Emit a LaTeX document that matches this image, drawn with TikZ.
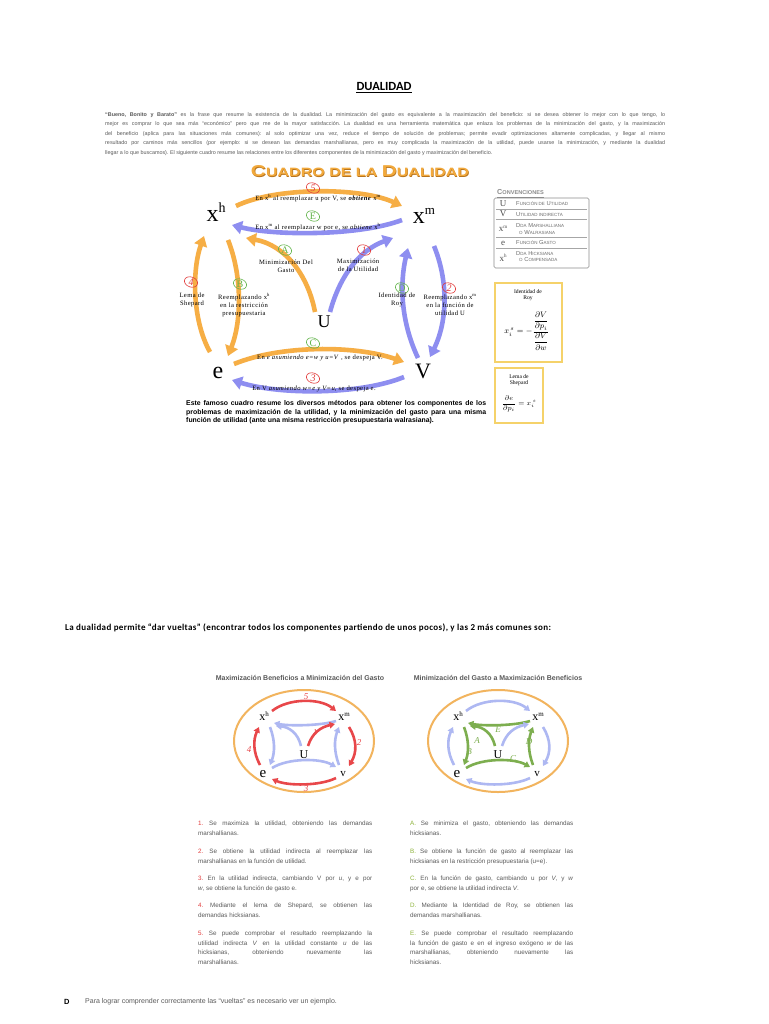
\documentclass[tikz,border=0pt]{standalone}
\usepackage{fontspec}
\usepackage{amsmath}
\usepackage{graphicx}
\setmainfont{Liberation Sans}
\newfontfamily\calib{Carlito}
\newfontfamily\calibw{Carlito}[LetterSpace=4]
\newfontfamily\tnr{Liberation Serif}
\newfontfamily\tnrw{Liberation Serif}[LetterSpace=6]
\usetikzlibrary{arrows.meta,shapes.geometric}
\definecolor{ptext}{HTML}{5A5A5A}
\definecolor{borange}{HTML}{F6AE45}
\definecolor{bblue}{HTML}{8E8EF0}
\definecolor{lred}{HTML}{E23B3B}
\definecolor{lgreen}{HTML}{62B44A}
\definecolor{sred}{HTML}{E8474A}
\definecolor{sblue}{HTML}{AEB8F2}
\definecolor{sgreen}{HTML}{7DAE4F}
\definecolor{sorange}{HTML}{F2B45E}
\definecolor{convgrey}{HTML}{6E6E6E}
\definecolor{roybox}{HTML}{F5D26A}
\definecolor{listgreen}{HTML}{8DB33A}
\definecolor{ttlorange}{HTML}{F2A93B}
\definecolor{ttlshadow}{HTML}{B8741E}
\newcommand\smc[1]{{\fontsize{4.5}{4.6}\selectfont\MakeUppercase{#1}}}
\newcommand\smcb[1]{{\fontsize{5.6}{5.8}\selectfont\MakeUppercase{#1}}}
\newcommand\jl[2]{\makebox[#1][s]{#2}}
\frenchspacing
\begin{document}
\begin{tikzpicture}[x=1pt,y=-1pt,
  oarr/.style={draw=borange, line width=4.6pt, -{Triangle[length=10pt,width=13pt]}},
  barr/.style={draw=bblue, line width=4.6pt, -{Triangle[length=10pt,width=13pt]}},
  rlbl/.style={text=lred, inner sep=0pt, font=\tnr\itshape\fontsize{10}{10}\selectfont},
  glbl/.style={text=lgreen, inner sep=0pt, font=\tnr\fontsize{10}{10}\selectfont},
  slbl/.style={inner sep=0pt, font=\tnr\itshape\fontsize{9}{9}\selectfont},
  dtxt/.style={font=\tnrw\fontsize{6.6}{7.8}\selectfont, inner sep=0pt, align=center},
  ptx/.style={font=\fontsize{5.4}{6}\selectfont, text=ptext, inner sep=0pt, anchor=base west},
  ltx/.style={font=\fontsize{6.3}{6.5}\selectfont, text=ptext, inner sep=0pt, anchor=base west},
  captx/.style={font=\bfseries\fontsize{6.9}{7}\selectfont, inner sep=0pt, anchor=base west},
  sarr/.style={line width=2.6pt, -{Triangle[length=5.5pt,width=6.5pt]}},
  snode/.style={font=\tnr\fontsize{12}{12}\selectfont, inner sep=0pt, anchor=base},
  conv/.style={font=\fontsize{5.8}{6}\selectfont, text=convgrey, inner sep=0pt, anchor=base west},
  convs/.style={font=\tnr\fontsize{9}{9}\selectfont, text=black!70, inner sep=0pt, anchor=base}
]
\fill[white] (0,0) rectangle (768,1024);
\useasboundingbox (0,0) rectangle (768,1024);

% ---------- Title ----------
\node[font=\calib\bfseries\fontsize{12.5}{12.5}\selectfont, inner sep=0pt, anchor=base] (title) at (384,91) {DUALIDAD};
\draw[line width=0.7pt] ([yshift=-1.6pt]title.base west) -- ([yshift=-1.6pt]title.base east);

% ---------- Paragraph ----------
\node[ptx] (p1) at (105,116.5) {\jl{560pt}{\textbf{“Bueno, Bonito y Barato”} es la frase que resume la existencia de la dualidad. La minimización del gasto es equivalente a la maximización del beneficio: si se desea obtener lo mejor con lo que tengo, lo}};
\node[ptx] (p2) at (105,126) {\jl{560pt}{mejor es comprar lo que sea más “económico” pero que me de la mayor satisfacción. La dualidad es una herramienta matemática que enlaza los problemas de la minimización del gasto, y la maximización}};
\node[ptx] (p3) at (105,135.5) {\jl{560pt}{del beneficio (aplica para las situaciones más comunes): al solo optimizar una vez, reduce el tiempo de solución de problemas; permite evadir optimizaciones altamente complicadas, y llegar al mismo}};
\node[ptx] (p4) at (105,145) {\jl{560pt}{resultado por caminos más sencillos (por ejemplo: si se desean las demandas marshallianas, pero es muy complicada la maximización de la utilidad, puede usarse la minimización, y mediante la dualidad}};
\node[ptx] (p5) at (105,154.5) {llegar a lo que buscamos). El siguiente cuadro resume las relaciones entre los diferentes componentes de la minimización del gasto y maximización del beneficio.};

% ---------- Cuadro de la dualidad title ----------
\node[text=ttlshadow, inner sep=0pt] (cuadros) at (360.6,171.6) {\resizebox{218pt}{11pt}{\bfseries\fontsize{13}{13}\selectfont C{\fontsize{10}{10}\selectfont UADRO DE LA }D{\fontsize{10}{10}\selectfont UALIDAD}}};
\node[text=ttlorange, inner sep=0pt] (cuadro) at (360,171) {\resizebox{218pt}{11pt}{\bfseries\fontsize{13}{13}\selectfont C{\fontsize{10}{10}\selectfont UADRO DE LA }D{\fontsize{10}{10}\selectfont UALIDAD}}};

% ---------- Big arrows ----------
\draw[oarr] (236,206) .. controls (275,187) and (360,187) .. (402,206);
\draw[barr] (402,220) .. controls (360,236) and (275,236) .. (232,225);
\draw[oarr] (315,312) .. controls (308,275) and (285,245) .. (246,238);
\draw[barr] (330,312) .. controls (340,275) and (360,250) .. (393,238);
\draw[oarr] (210,352) .. controls (192,320) and (192,270) .. (204,236);
\draw[oarr] (228,240) .. controls (242,275) and (242,320) .. (228,356);
\draw[barr] (418,358) .. controls (400,320) and (400,282) .. (408,248);
\draw[barr] (434,246) .. controls (448,280) and (448,320) .. (430,357);
\draw[oarr] (234,364) .. controls (280,345) and (355,345) .. (404,362);
\draw[barr] (404,377) .. controls (360,395) and (280,395) .. (232,380);

% ---------- Big nodes ----------
\node[font=\tnr\fontsize{24}{24}\selectfont, inner sep=0pt, anchor=base] (xh) at (216,222) {x\raisebox{9pt}{\fontsize{14}{14}\selectfont h}};
\node[font=\tnr\fontsize{24}{24}\selectfont, inner sep=0pt, anchor=base] (xm) at (424,223) {x\raisebox{9pt}{\fontsize{13}{13}\selectfont m}};
\node[font=\tnr\fontsize{24}{24}\selectfont, inner sep=0pt, anchor=base] (e) at (218,378) {e};
\node[font=\tnr\fontsize{22}{22}\selectfont, inner sep=0pt, anchor=base] (V) at (423,378) {V};
\node[font=\tnr\fontsize{18}{18}\selectfont, inner sep=0pt, anchor=base] (U) at (324,327) {U};

% ---------- Labels ----------
\foreach \nm/\px/\py/\tx in {l5/313/188/5, l1/364/250/1, l4/191/282/4, l2/449/288/2, l3/313/378/3}{
  \node[rlbl] (\nm) at (\px,\py) {\tx};
  \draw[lred, line width=0.6pt, rotate around={-20:(\nm)}] (\nm) ellipse [x radius=6.8pt, y radius=5pt];
}
\foreach \nm/\px/\py/\tx in {lE/313/216/E, lA/285/250/A, lB/240/284/B, lD/402/288/D, lC/313/343/C}{
  \node[glbl] (\nm) at (\px,\py) {\tx};
  \draw[lgreen, line width=0.6pt, rotate around={-20:(\nm)}] (\nm) ellipse [x radius=6.8pt, y radius=5pt];
}

% ---------- Arrow texts ----------
\node[dtxt] (t5) at (318,198) {En x\textsuperscript{h} al reemplazar u por V, se \textbf{\textit{obtiene}} x\textsuperscript{m}};
\node[dtxt] (tE) at (318,227) {En x\textsuperscript{m} al reemplazar w por e, se \textit{obtiene} x\textsuperscript{h}};
\node[dtxt] (tA) at (286,266) {Minimización Del\\Gasto};
\node[dtxt] (t1) at (358,265) {Maximización\\de la Utilidad};
\node[dtxt] (t4) at (192,300) {Lema de\\Shepard};
\node[dtxt] (tB) at (244,305) {Reemplazando x\textsuperscript{h}\\en la restricción\\presupuestaria};
\node[dtxt] (tD) at (397,300) {Identidad de\\Roy};
\node[dtxt] (t2) at (450,305) {Reemplazando x\textsuperscript{m}\\en la función de\\utilidad U};
\node[dtxt] (tC) at (320,358) {En \textit{e asumiendo e=w y u=V} , se despeja V.};
\node[dtxt] (t3) at (314,389) {En V \textit{asumiendo w=e y V=u}, se despeja e.};

% ---------- Caption ----------
\node[captx] (c1) at (186,405.5) {\jl{300pt}{Este famoso cuadro resume los diversos métodos para obtener los componentes de los}};
\node[captx] (c2) at (186,414) {\jl{300pt}{problemas de maximización de la utilidad, y la minimización del gasto para una misma}};
\node[captx] (c3) at (186,422.5) {función de utilidad (ante una misma restricción presupuestaria walrasiana).};

% ---------- Conventions ----------
\node[font=\bfseries\fontsize{7.2}{7.2}\selectfont, text=black!45, inner sep=0pt, anchor=base west] (convt) at (497,195) {C\smcb{onvenciones}};
\draw[black!45, line width=0.5pt] (497,197) -- (convt.base east |- 0,197);
\draw[black!45, line width=0.6pt, rounded corners=1.5pt] (494,198) rectangle (589,268);
\foreach \yy in {209,219,237,248} \draw[black!35, line width=0.4pt] (496,\yy) -- (587,\yy);
\node[convs] (cU) at (503,207) {U};
\node[conv] (cUt) at (516,206) {F\smc{unción de} U\smc{tilidad}};
\node[convs] (cV) at (503,217) {V};
\node[conv] (cVt) at (516,216.5) {U\smc{tilidad indirecta}};
\node[convs] (cxm) at (503,232) {x\raisebox{3pt}{\fontsize{5}{5}\selectfont m}};
\node[conv] (cxmt) at (516,228) {D\smc{da} M\smc{arshalliana}};
\node[conv] (cxmt2) at (519,234.5) {\smc{o} W\smc{alrasiana}};
\node[convs] (ce) at (503,245) {e};
\node[conv] (cet) at (516,244.5) {F\smc{unción} G\smc{asto}};
\node[convs] (cxh) at (503,261) {x\raisebox{3pt}{\fontsize{5}{5}\selectfont h}};
\node[conv] (cxht) at (516,255) {D\smc{da} H\smc{icksiana}};
\node[conv] (cxht2) at (519,261.5) {\smc{o} C\smc{ompensada}};

% ---------- Roy box ----------
\draw[roybox, line width=1.3pt] (495,283) rectangle (562,362);
\node[font=\tnr\fontsize{5.6}{6.2}\selectfont, align=center, inner sep=0pt] (royt) at (528,295) {Identidad de\\Roy};
\node[font=\fontsize{8.5}{10}\selectfont, inner sep=0pt] (royf) at (527,331) {$x_i^{\,s} = -\dfrac{\dfrac{\partial V}{\partial p_i}}{\dfrac{\partial V}{\partial w}}$};

% ---------- Shepard box ----------
\draw[roybox, line width=1.3pt] (495,368) rectangle (543,423);
\node[font=\tnr\fontsize{5.6}{6.2}\selectfont, align=center, inner sep=0pt] (shept) at (519,380) {Lema de\\Shepard};
\node[font=\fontsize{7.5}{8}\selectfont, inner sep=0pt] (shepf) at (519,404) {$\dfrac{\partial e}{\partial p_i} = x_i^{\,s}$};

% ---------- Sentence ----------
\node[font=\calibw\bfseries\fontsize{9}{9}\selectfont, inner sep=0pt, anchor=base west] (sent) at (65,630) {La dualidad permite “dar vueltas” (encontrar todos los componentes partiendo de unos pocos), y las 2 más comunes son:};

% ---------- Small diagram titles ----------
\node[font=\bfseries\fontsize{7}{7}\selectfont, text=black!65, inner sep=0pt] (st1) at (300,678) {Maximización Beneficios a Minimización del Gasto};
\node[font=\bfseries\fontsize{7}{7}\selectfont, text=black!65, inner sep=0pt] (st2) at (498,678) {Minimización del Gasto a Maximización Beneficios};

% ---------- Left small diagram ----------
\begin{scope}[shift={(304,0)}]
\draw[sorange, line width=2pt] (0,741) ellipse [x radius=70pt, y radius=51pt];
\draw[sarr, sred]  (-32,711) .. controls (-16,698) and (16,698) .. (32,711);
\draw[sarr, sblue] (32,721) .. controls (16,726) and (-16,726) .. (-30,723);
\draw[sarr, sblue] (-3,746) .. controls (-6,733) and (-15,727) .. (-28,726);
\draw[sarr, sred]  (4,746) .. controls (8,733) and (17,727) .. (31,724);
\draw[sarr, sred]  (-44,765) .. controls (-51,752) and (-51,740) .. (-45,727);
\draw[sarr, sblue] (-34,727) .. controls (-29,740) and (-29,752) .. (-34,765);
\draw[sarr, sred]  (45,727) .. controls (53,740) and (53,752) .. (45,766);
\draw[sarr, sblue] (35,765) .. controls (30,752) and (30,740) .. (35,727);
\draw[sarr, sblue] (-32,768) .. controls (-16,758) and (16,758) .. (32,767);
\draw[sarr, sred]  (32,778) .. controls (16,786) and (-16,786) .. (-32,779);
\node[snode] (Lxh) at (-40,720) {x\raisebox{4pt}{\fontsize{7}{7}\selectfont h}};
\node[snode] (Lxm) at (40,720) {x\raisebox{4pt}{\fontsize{7}{7}\selectfont m}};
\node[snode, font=\tnr\fontsize{12}{12}\selectfont] (LU) at (0,758) {U};
\node[snode, font=\tnr\fontsize{15}{15}\selectfont] (Le) at (-41,777) {e};
\node[snode, font=\tnr\fontsize{11}{11}\selectfont] (Lv) at (39,776) {v};
\node[slbl, text=sred] (sl5) at (2,697) {5};
\node[slbl, text=sred] (sl1) at (11,733) {1};
\node[slbl, text=sred] (sl4) at (-55,750) {4};
\node[slbl, text=sred] (sl2) at (55,743) {2};
\node[slbl, text=sred] (sl3) at (2,789) {3};
\end{scope}

% ---------- Right small diagram ----------
\begin{scope}[shift={(498,0)}]
\draw[sorange, line width=2pt] (0,741) ellipse [x radius=70pt, y radius=51pt];
\draw[sarr, sblue]  (-32,711) .. controls (-16,698) and (16,698) .. (32,711);
\draw[sarr, sgreen] (32,721) .. controls (16,726) and (-16,726) .. (-30,723);
\draw[sarr, sgreen] (-3,746) .. controls (-6,733) and (-15,727) .. (-28,726);
\draw[sarr, sblue]  (4,746) .. controls (8,733) and (17,727) .. (31,724);
\draw[sarr, sblue]  (-44,765) .. controls (-51,752) and (-51,740) .. (-45,727);
\draw[sarr, sgreen] (-34,727) .. controls (-29,740) and (-29,752) .. (-34,765);
\draw[sarr, sblue]  (45,727) .. controls (53,740) and (53,752) .. (45,766);
\draw[sarr, sgreen] (35,765) .. controls (30,752) and (30,740) .. (35,727);
\draw[sarr, sgreen] (-32,768) .. controls (-16,758) and (16,758) .. (32,767);
\draw[sarr, sblue]  (32,778) .. controls (16,786) and (-16,786) .. (-32,779);
\node[snode] (Rxh) at (-40,720) {x\raisebox{4pt}{\fontsize{7}{7}\selectfont h}};
\node[snode] (Rxm) at (40,720) {x\raisebox{4pt}{\fontsize{7}{7}\selectfont m}};
\node[snode, font=\tnr\fontsize{12}{12}\selectfont] (RU) at (0,758) {U};
\node[snode, font=\tnr\fontsize{15}{15}\selectfont] (Re) at (-41,777) {e};
\node[snode, font=\tnr\fontsize{11}{11}\selectfont] (Rv) at (39,776) {v};
\node[slbl, text=sgreen] (slE) at (0,730) {E};
\node[slbl, text=sgreen] (slA) at (-21,741) {A};
\node[slbl, text=sgreen] (slB) at (-29,752) {B};
\node[slbl, text=sgreen] (slD) at (31,742) {D};
\node[slbl, text=sgreen] (slC) at (15,759) {C};
\end{scope}

% ---------- Left list ----------
\node[ltx] (L1a) at (198,825) {\jl{174pt}{\textcolor{lred}{1.} Se maximiza la utilidad, obteniendo las demandas}};
\node[ltx] (L1b) at (198,835) {marshallianas.};
\node[ltx] (L2a) at (198,853) {\jl{174pt}{\textcolor{lred}{2.} Se obtiene la utilidad indirecta al reemplazar las}};
\node[ltx] (L2b) at (198,863) {marshallianas en la función de utilidad.};
\node[ltx] (L3a) at (198,880.5) {\jl{174pt}{\textcolor{lred}{3.} En la utilidad indirecta, cambiando V por \textit{u}, y e por}};
\node[ltx] (L3b) at (198,890.5) {\textit{w}, se obtiene la función de gasto e.};
\node[ltx] (L4a) at (198,907.5) {\jl{174pt}{\textcolor{lred}{4.} Mediante el lema de Shepard, se obtienen las}};
\node[ltx] (L4b) at (198,917.5) {demandas hicksianas.};
\node[ltx] (L5a) at (198,935) {\jl{174pt}{\textcolor{lred}{5.} Se puede comprobar el resultado reemplazando la}};
\node[ltx] (L5b) at (198,945) {\jl{174pt}{utilidad indirecta \textit{V} en la utilidad constante \textit{u} de las}};
\node[ltx] (L5c) at (198,954.5) {\jl{174pt}{hicksianas, obteniendo nuevamente las}};
\node[ltx] (L5d) at (198,964.5) {marshallianas.};

% ---------- Right list ----------
\node[ltx] (R1a) at (410,825) {\jl{163pt}{\textcolor{listgreen}{A.} Se minimiza el gasto, obteniendo las demandas}};
\node[ltx] (R1b) at (410,835) {hicksianas.};
\node[ltx] (R2a) at (410,853) {\jl{163pt}{\textcolor{listgreen}{B.} Se obtiene la función de gasto al reemplazar las}};
\node[ltx] (R2b) at (410,863) {hicksianas en la restricción presupuestaria (u=e).};
\node[ltx] (R3a) at (410,880.5) {\jl{163pt}{\textcolor{listgreen}{C.} En la función de gasto, cambiando u por \textit{V}, y \textit{w}}};
\node[ltx] (R3b) at (410,890.5) {por e, se obtiene la utilidad indirecta \textit{V}.};
\node[ltx] (R4a) at (410,907.5) {\jl{163pt}{\textcolor{listgreen}{D.} Mediante la Identidad de Roy, se obtienen las}};
\node[ltx] (R4b) at (410,917.5) {demandas marshallianas.};
\node[ltx] (R5a) at (410,935) {\jl{163pt}{\textcolor{listgreen}{E.} Se puede comprobar el resultado reemplazando}};
\node[ltx] (R5b) at (410,945) {\jl{163pt}{la función de gasto e en el ingreso exógeno \textit{w} de las}};
\node[ltx] (R5c) at (410,954.5) {\jl{163pt}{marshallianas, obteniendo nuevamente las}};
\node[ltx] (R5d) at (410,964.5) {hicksianas.};

% ---------- Footer ----------
\node[font=\bfseries\fontsize{7.5}{7.5}\selectfont, inner sep=0pt, anchor=base west] (fD) at (64,1004) {D};
\node[font=\fontsize{7}{7}\selectfont, text=ptext, inner sep=0pt, anchor=base west] (ft) at (85,1003) {Para lograr comprender correctamente las “vueltas” es necesario ver un ejemplo.};
\end{tikzpicture}
\end{document}
